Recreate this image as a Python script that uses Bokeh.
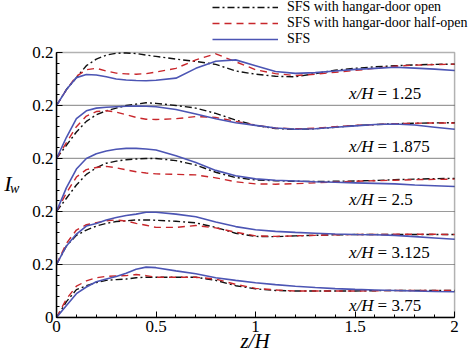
from bokeh.plotting import figure
from bokeh.models import (Legend, LegendItem, Label, FixedTicker, LinearAxis, BoxAnnotation)
from bokeh.embed import file_html
from bokeh.resources import INLINE

# ---- data (values relative to each profile's baseline) ----
z = [0, 0.05, 0.1, 0.15, 0.2, 0.25, 0.3, 0.35, 0.4, 0.45, 0.5, 0.6, 0.7, 0.8, 0.9,
     1.0, 1.1, 1.2, 1.3, 1.4, 1.5, 1.6, 1.7, 1.8, 1.9, 2.0]

stations = ["1.25", "1.875", "2.5", "3.125", "3.75"]
offsets = [0.8, 0.6, 0.4, 0.2, 0.0]

open_door = [
    [0, .06, .105, .15, .175, .19, .197, .198, .196, .19, .185, .175, .166, .155, .13, .118, .11, .108, .12, .133, .14, .146, .15, .153, .155, .156],
    [0, .05, .10, .14, .165, .18, .19, .20, .205, .21, .208, .20, .19, .17, .145, .125, .113, .11, .112, .118, .124, .128, .131, .133, .134, .135],
    [0, .05, .10, .14, .165, .182, .19, .195, .198, .20, .20, .192, .175, .148, .128, .119, .116, .114, .113, .114, .115, .117, .12, .122, .124, .125],
    [0, .07, .11, .13, .145, .155, .162, .165, .168, .168, .167, .163, .157, .14, .118, .106, .105, .108, .11, .112, .113, .113, .113, .113, .113, .113],
    [0, .06, .105, .12, .132, .14, .143, .145, .15, .152, .152, .152, .152, .14, .12, .108, .102, .10, .10, .10, .10, .101, .102, .102, .102, .102],
]
half_open = [
    [0, .06, .11, .135, .14, .13, .122, .119, .118, .12, .126, .14, .172, .195, .165, .135, .12, .113, .118, .125, .132, .14, .148, .152, .154, .156],
    [0, .06, .12, .16, .177, .18, .175, .165, .155, .148, .147, .15, .158, .155, .14, .125, .115, .112, .114, .12, .125, .128, .131, .133, .134, .134],
    [0, .07, .13, .158, .166, .17, .165, .157, .15, .145, .142, .14, .138, .127, .112, .104, .103, .105, .108, .111, .114, .116, .118, .12, .121, .122],
    [0, .08, .13, .15, .158, .165, .168, .164, .155, .148, .14, .14, .147, .138, .122, .108, .106, .108, .11, .112, .113, .113, .114, .114, .114, .113],
    [0, .07, .118, .138, .15, .155, .157, .158, .162, .158, .152, .152, .152, .145, .125, .11, .104, .10, .10, .10, .10, .101, .102, .102, .102, .102],
]
sfs = [
    [0, .06, .105, .117, .115, .108, .10, .096, .094, .093, .095, .103, .14, .167, .172, .15, .128, .121, .124, .13, .136, .14, .144, .141, .137, .132],
    [0, .08, .15, .18, .19, .193, .195, .197, .198, .197, .195, .185, .168, .15, .135, .125, .115, .11, .112, .118, .123, .128, .13, .126, .118, .11],
    [0, .09, .16, .20, .218, .228, .235, .238, .238, .236, .232, .21, .185, .155, .135, .123, .118, .115, .112, .11, .108, .106, .104, .10, .097, .094],
    [0, .07, .115, .145, .155, .168, .177, .185, .19, .197, .197, .19, .18, .16, .143, .131, .125, .121, .118, .115, .113, .112, .11, .105, .10, .095],
    [0, .045, .09, .115, .135, .145, .155, .167, .182, .19, .188, .176, .165, .15, .14, .131, .124, .118, .113, .109, .106, .104, .102, .10, .098, .097],
]

y_ticks = [0, 0.2, 0.4, 0.6, 0.8, 1.0]
y_tick_labels = ["0", "0.2", "0.2", "0.2", "0.2", "0.2"]
x_ticks = [0, 0.5, 1, 1.5, 2]
x_tick_labels = ["0", "0.5", "1", "1.5", "2"]

legend_labels = ["SFS with hangar-door open", "SFS with hangar-door half-open", "SFS"]

FONT = "Times New Roman, Liberation Serif, DejaVu Serif, serif"
BLACK = "#111111"
RED = "#c8262b"
BLUE = "#4c55b4"

# frame extended up/right so that the legend (above the plot box) is not clipped
p = figure(width=474, height=355, x_range=(0, 2.1), y_range=(0, 1.196),
           output_backend="svg", toolbar_location=None,
           min_border_left=56, min_border_right=0, min_border_top=0, min_border_bottom=38)
p.background_fill_color = "white"
p.border_fill_color = "white"
p.outline_line_color = None
p.grid.visible = False

# plot box
p.add_layout(BoxAnnotation(left=x_ticks[0], right=x_ticks[-1], bottom=y_ticks[0], top=y_ticks[-1],
                           fill_alpha=0, line_color="black", line_width=1.5))
# grey separators between profiles
p.segment(x0=[x_ticks[0]] * 4, x1=[x_ticks[-1]] * 4, y0=offsets[:-1], y1=offsets[:-1],
          line_color="#9a9a9a", line_width=1.2)

r_open = r_half = r_sfs = None
for i, off in enumerate(offsets):
    r1 = p.line(z, [v + off for v in open_door[i]], line_color=BLACK, line_width=1.4,
                line_dash="7 3 2 3")
    r2 = p.line(z, [v + off for v in half_open[i]], line_color=RED, line_width=1.4,
                line_dash="7 5")
    r3 = p.line(z, [v + off for v in sfs[i]], line_color=BLUE, line_width=1.6)
    if i == 0:
        r_open, r_half, r_sfs = r1, r2, r3
    p.add_layout(Label(x=1.47, y=off + 0.045, text="x/H", text_font=FONT,
                       text_font_size="17px", text_font_style="italic",
                       text_baseline="middle", text_align="left", text_color="black"))
    p.add_layout(Label(x=1.613, y=off + 0.045, text="= " + stations[i], text_font=FONT,
                       text_font_size="17px", text_baseline="middle", text_align="left",
                       text_color="black"))

# axes
for ax in (p.xaxis[0], p.yaxis[0]):
    ax.axis_line_color = "black"
    ax.axis_line_width = 1.5
    ax.major_tick_in = 6
    ax.major_tick_out = 0
    ax.minor_tick_in = 3
    ax.minor_tick_out = 0
    ax.major_tick_line_color = "black"
    ax.minor_tick_line_color = "black"
    ax.major_label_text_font = FONT
    ax.major_label_text_font_size = "17px"
    ax.major_label_text_color = "black"
    ax.axis_label_text_font = FONT
    ax.axis_label_text_font_style = "italic"
    ax.axis_label_text_color = "black"

p.xaxis.bounds = (x_ticks[0], x_ticks[-1])
p.xaxis.ticker = FixedTicker(ticks=x_ticks,
                             minor_ticks=[round(0.1 * k, 2) for k in range(21)])
p.xaxis.major_label_overrides = {t: l for t, l in zip(x_ticks, x_tick_labels)}
p.xaxis.major_label_standoff = 3
p.xaxis.axis_label = "z/H\u00a0\u00a0\u00a0\u00a0"
p.xaxis.axis_label_text_font_size = "21px"
p.xaxis.axis_label_standoff = -6

p.yaxis.bounds = (y_ticks[0], y_ticks[-1])
p.yaxis.ticker = FixedTicker(ticks=y_ticks,
                             minor_ticks=[round(0.04 * k, 2) for k in range(26)])
p.yaxis.major_label_overrides = {t: l for t, l in zip(y_ticks, y_tick_labels)}
p.yaxis.major_label_standoff = 3
p.yaxis.axis_label = "\nw"
p.yaxis.axis_label_orientation = "horizontal"
p.yaxis.axis_label_text_font_size = "14px"
p.yaxis.axis_label_text_line_height = 3.87
p.yaxis.axis_label_standoff = 10

# outer axis carrying only the "I" of I_w
i_axis = LinearAxis(ticker=FixedTicker(ticks=[0.5], minor_ticks=[]),
                    major_label_overrides={0.5: ""}, major_label_text_font_size="1px",
                    major_label_standoff=0, major_tick_in=0, major_tick_out=0,
                    minor_tick_in=0, minor_tick_out=0,
                    axis_label="\nI",
                    axis_label_orientation="horizontal", axis_label_standoff=-5,
                    axis_label_text_font=FONT, axis_label_text_font_size="22px",
                    axis_label_text_line_height=1.93,
                    axis_label_text_font_style="italic", axis_label_text_color="black",
                    axis_line_color=None, major_tick_line_color=None,
                    minor_tick_line_color=None)
p.add_layout(i_axis, "left")

legend = Legend(items=[LegendItem(label=legend_labels[0], renderers=[r_open]),
                       LegendItem(label=legend_labels[1], renderers=[r_half]),
                       LegendItem(label=legend_labels[2], renderers=[r_sfs])],
                location=(156, 270), orientation="vertical",
                label_text_font=FONT, label_text_font_size="14px", label_text_color="black",
                glyph_width=66, glyph_height=14, label_height=14, label_standoff=9,
                spacing=0, padding=0, margin=0,
                border_line_color=None, background_fill_alpha=0)
p.add_layout(legend, "center")

open("out.html", "w").write(file_html(p, INLINE))
